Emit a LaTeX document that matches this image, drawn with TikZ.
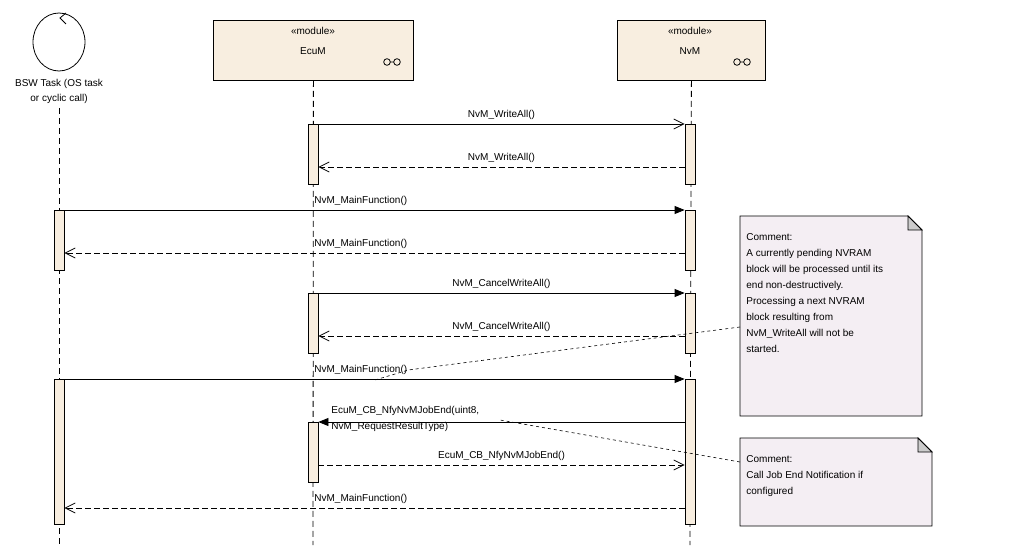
\documentclass[tikz,border=0pt]{standalone}
\usepackage{fontspec}
\setmainfont{Liberation Sans}
\usetikzlibrary{arrows.meta,shapes.geometric}
\definecolor{boxc}{HTML}{F8EEE0}
\definecolor{notec}{HTML}{F4EEF3}
\begin{document}
\begin{tikzpicture}[x=1pt,y=-1pt,font=\fontsize{10}{12}\selectfont,line width=0.8pt,
  life/.style={dash pattern=on 6pt off 4pt},
  act/.style={draw,fill=boxc,minimum width=10pt,inner sep=0pt},
  call/.style={-{Triangle[length=10pt,width=8pt]}},
  sync/.style={-{Straight Barb[length=10pt,width=10pt]}},
  ret/.style={dash pattern=on 6pt off 3pt,-{Straight Barb[length=10pt,width=10pt]}},
  lbl/.style={inner sep=1pt},
  anchorline/.style={dash pattern=on 3pt off 3pt}]
\useasboundingbox (0,0) rectangle (1036,556);
% participants
\node[draw,ellipse,minimum width=52pt,minimum height=58pt,inner sep=0pt] (task) at (59,42) {};
\draw (66,13) -- (60,18) -- (66,24);
\node[align=center,anchor=north,font=\fontsize{10}{15}\selectfont] (tasklbl) at (59,76) {BSW Task (OS task\\or cyclic call)};
\node[draw,fill=boxc,minimum width=200pt,minimum height=60pt,anchor=north west] (ecum) at (213,20) {};
\node at (313,31) {«module»}; \node at (313,51) {EcuM};
\node[draw,fill=boxc,minimum width=148pt,minimum height=60pt,anchor=north west] (nvm) at (617,20) {};
\node at (690,31) {«module»}; \node at (690,51) {NvM};
\foreach \cx in {392,742}{\draw (\cx-5,62) circle (3.3pt) (\cx+5,62) circle (3.3pt) (\cx-2,62)--(\cx+2,62);}
% lifelines
\coordinate (tb) at (59,545); \coordinate (eb) at (313,545); \coordinate (nb) at (690,545);
\draw[life] (59,108) -- (tb);
\draw[life] (ecum.south) -- (eb);
\draw[life] (nvm.south) -- (nb);
% activations
\node[act,minimum height=60pt,anchor=north] (e1) at (313,124) {};
\node[act,minimum height=60pt,anchor=north] (n1) at (690,124) {};
\node[act,minimum height=60pt,anchor=north] (t1) at (59,210) {};
\node[act,minimum height=60pt,anchor=north] (n2) at (690,210) {};
\node[act,minimum height=60pt,anchor=north] (e2) at (313,293) {};
\node[act,minimum height=60pt,anchor=north] (n3) at (690,293) {};
\node[act,minimum height=145pt,anchor=north] (t2) at (59,379) {};
\node[act,minimum height=145pt,anchor=north] (n4) at (690,379) {};
\node[act,minimum height=60pt,anchor=north] (e3) at (313,422) {};
% messages
\draw[sync] (e1.north east) -- (n1.north west) node[lbl,midway,above=3pt] {NvM\_WriteAll()};
\draw[ret] (n1.west |- 0,167) -- (e1.east |- 0,167) node[lbl,midway,above=3pt] {NvM\_WriteAll()};
\draw[call] (t1.north east) -- (n2.north west);
\node[lbl,anchor=south west] at (313,207) {NvM\_MainFunction()};
\draw[ret] (n2.west |- 0,253) -- (t1.east |- 0,253);
\node[lbl,anchor=south west] at (313,250) {NvM\_MainFunction()};
\draw[call] (e2.north east) -- (n3.north west) node[lbl,midway,above=3pt] {NvM\_CancelWriteAll()};
\draw[ret] (n3.west |- 0,336) -- (e2.east |- 0,336) node[lbl,midway,above=3pt] {NvM\_CancelWriteAll()};
\draw[call] (t2.north east) -- (n4.north west);
\node[lbl,anchor=south west] (mf3) at (313,376) {NvM\_MainFunction()};
\draw[call] (n4.west |- 0,422) -- (e3.north east);
\node[lbl,anchor=west,align=left,font=\fontsize{10}{16}\selectfont] (cb) at (330,419) {EcuM\_CB\_NfyNvMJobEnd(uint8,\\NvM\_RequestResultType)};
\draw[ret] (e3.east |- 0,465) -- (n4.west |- 0,465) node[lbl,midway,above=3pt] {EcuM\_CB\_NfyNvMJobEnd()};
\draw[ret] (n4.west |- 0,508) -- (t2.east |- 0,508);
\node[lbl,anchor=south west] at (313,505) {NvM\_MainFunction()};
% notes
\draw[fill=notec] (740,216) -- (908,216) -- (922,230) -- (922,416) -- (740,416) -- cycle;
\draw[fill=black!20] (908,216) -- (922,230) -- (908,230) -- cycle;
\node[anchor=north west,align=left,font=\fontsize{10}{16}\selectfont,inner sep=0pt] (note1) at (746,233) {Comment:\\A currently pending NVRAM\\block will be processed until its\\end non-destructively.\\Processing a next NVRAM\\block resulting from\\NvM\_WriteAll will not be\\started.};
\draw[fill=notec] (740,438) -- (918,438) -- (932,452) -- (932,526) -- (740,526) -- cycle;
\draw[fill=black!20] (918,438) -- (932,452) -- (918,452) -- cycle;
\node[anchor=north west,align=left,font=\fontsize{10}{16}\selectfont,inner sep=0pt] (note2) at (746,455) {Comment:\\Call Job End Notification if\\configured};
\coordinate (n1a) at (740,327); \coordinate (n2a) at (740,462);
\draw[anchorline,line width=0.6pt] (n1a) -- (mf3.east) -- (375,380);
\draw[anchorline,line width=0.6pt] (n2a) -- (500,420);
\end{tikzpicture}
\end{document}
